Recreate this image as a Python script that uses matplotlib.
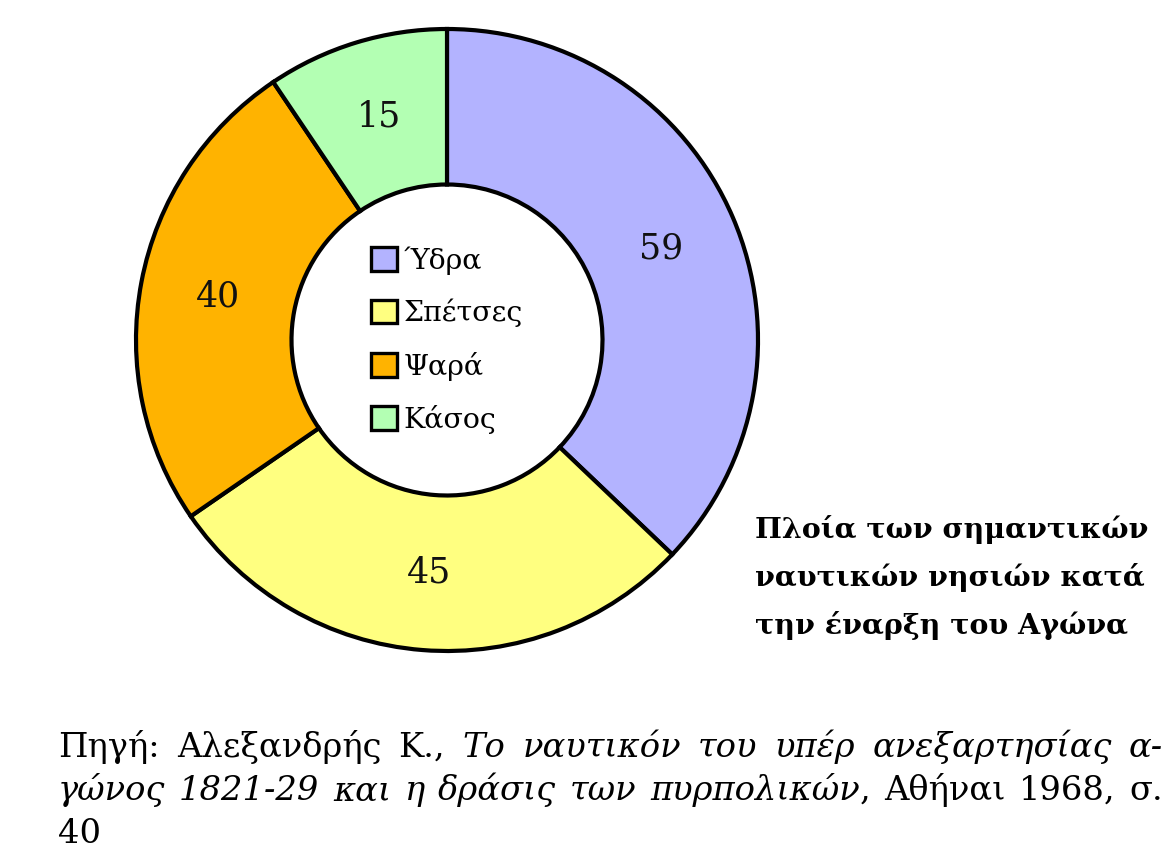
import matplotlib
matplotlib.use("Agg")
import matplotlib.pyplot as plt
from matplotlib.patches import Patch

# data
islands = ["Ύδρα", "Σπέτσες", "Ψαρά", "Κάσος"]
ships = [59, 45, 40, 15]
colors = ["#B3B3FF", "#FFFF80", "#FFB300", "#B3FFB3"]

title_lines = ["Πλοία των σημαντικών", "ναυτικών νησιών κατά", "την έναρξη του Αγώνα"]

# source note, words as runs of (text, italic)
source_lines = [
    [[("Πηγή:", False)], [("Αλεξανδρής", False)], [("Κ.,", False)], [("Το", True)],
     [("ναυτικόν", True)], [("του", True)], [("υπέρ", True)], [("ανεξαρτησίας", True)], [("α-", True)]],
    [[("γώνος", True)], [("1821-29", True)], [("και", True)], [("η", True)], [("δράσις", True)],
     [("των", True)], [("πυρπολικών", True), (",", False)], [("Αθήναι", False)], [("1968,", False)], [("σ.", False)]],
    [[("40", False)]],
]

W, H = 1175, 856
fig = plt.figure(figsize=(W / 100, H / 100), dpi=100)

# pie axes: centre (447, 340) px, radius 311 px
cx, cy, r = 447, 340, 311
pad = 1.03
ax = fig.add_axes([(cx - r * pad) / W, (H - cy - r * pad) / H, 2 * r * pad / W, 2 * r * pad / H])
wedges, texts, autotexts = ax.pie(
    ships, colors=colors, startangle=90, counterclock=False, radius=1,
    wedgeprops=dict(width=0.5, edgecolor="black", linewidth=3),
    autopct=lambda p: "%d" % round(p * sum(ships) / 100), pctdistance=0.75,
    textprops=dict(fontsize=25, family="DejaVu Serif", color="#111111"))
ax.set_xlim(-pad, pad)
ax.set_ylim(-pad, pad)
ax.axis("off")

handles = [Patch(facecolor=c, edgecolor="black", linewidth=2.4) for c in colors]
ax.legend(handles, islands, loc="center", frameon=False,
          prop=dict(family="DejaVu Serif", size=20.5),
          handlelength=0.9, handleheight=0.9, handletextpad=0.25,
          labelspacing=0.85, borderaxespad=0)

# title
for i, line in enumerate(title_lines):
    fig.text(755 / W, 1 - (530 + i * 48) / H, line, fontsize=20.5, fontweight="bold",
             family="DejaVu Serif", va="center", ha="left")

# justified source note
renderer = fig.canvas.get_renderer()
x_left, x_right = 58, 1163
baselines = [757, 800, 843]
fs = 24.3
for li, words in enumerate(source_lines):
    pieces = []
    widths = []
    for word in words:
        run_w = []
        for txt, it in word:
            t = fig.text(0, 0, txt, fontsize=fs, family="DejaVu Serif",
                         style="italic" if it else "normal", va="baseline", ha="left")
            run_w.append(t.get_window_extent(renderer).width)
            pieces.append(t)
        widths.append(run_w)
    total = sum(sum(w) for w in widths)
    if li < 2 and len(words) > 1:
        gap = (x_right - x_left - total) / (len(words) - 1)
    else:
        gap = 8
    x = x_left
    k = 0
    for wi, word in enumerate(words):
        for ri in range(len(word)):
            pieces[k].set_position((x / W, 1 - baselines[li] / H))
            x += widths[wi][ri]
            k += 1
        x += gap

fig.savefig("out.png", dpi=100)
